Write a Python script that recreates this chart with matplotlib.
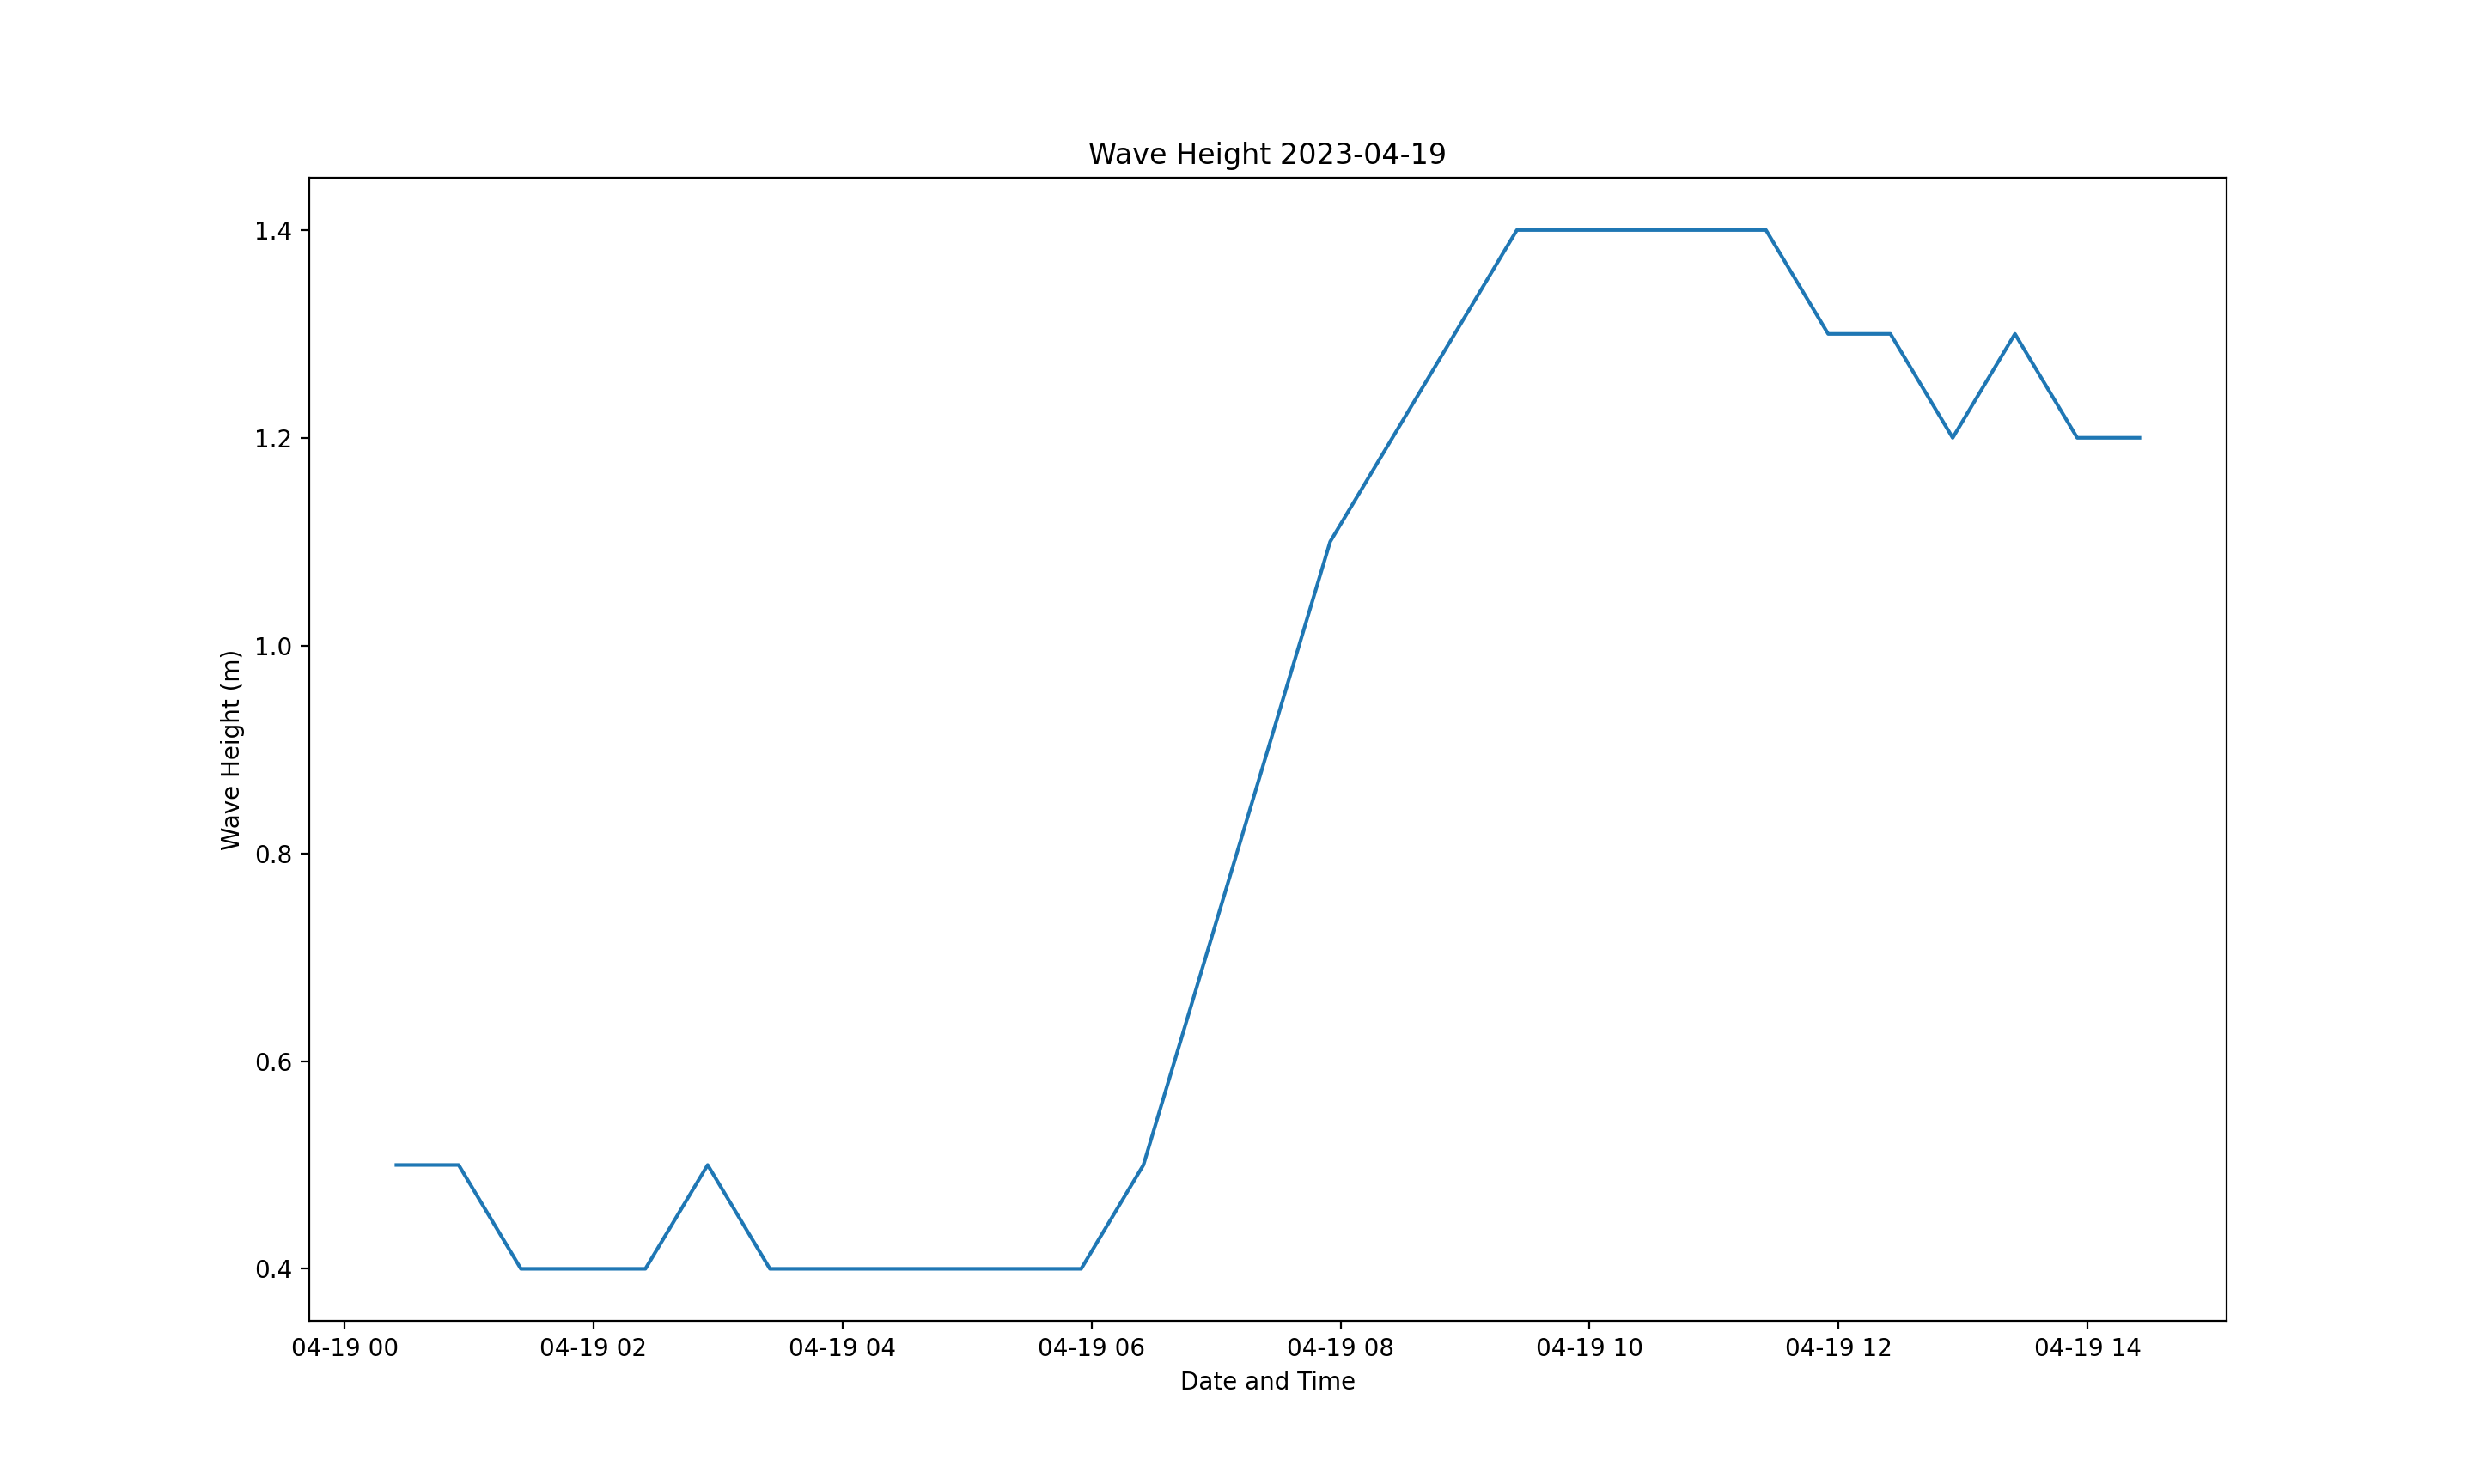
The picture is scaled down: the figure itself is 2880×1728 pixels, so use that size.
import matplotlib
matplotlib.use("Agg")
import matplotlib.pyplot as plt
import pandas as pd

times = pd.date_range("2023-04-19 00:25", periods=29, freq="30min")
wave_height = [0.5, 0.5, 0.4, 0.4, 0.4, 0.5, 0.4, 0.4, 0.4, 0.4, 0.4, 0.4,
               0.5, 0.7, 0.9, 1.1, 1.2, 1.3, 1.4, 1.4, 1.4, 1.4, 1.4,
               1.3, 1.3, 1.2, 1.3, 1.2, 1.2]

fig, ax = plt.subplots(figsize=(14.4, 8.64), dpi=200)
ax.plot(times, wave_height)
ax.set_title("Wave Height 2023-04-19")
ax.set_xlabel("Date and Time")
ax.set_ylabel("Wave Height (m)")
fig.savefig("out.png")
